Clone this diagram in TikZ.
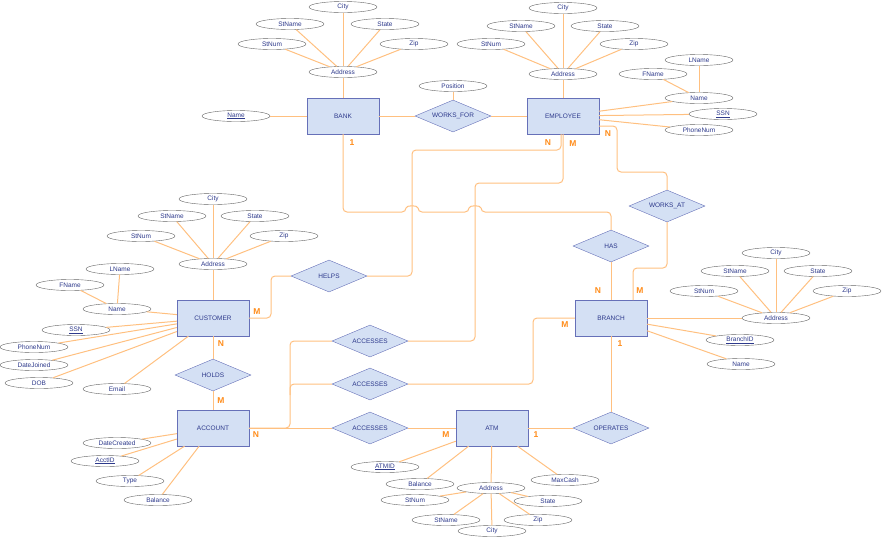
\documentclass[tikz,border=0pt]{standalone}
\usepackage{fontspec}
\setmainfont{Liberation Sans}
\usetikzlibrary{shapes.geometric}
\definecolor{efill}{HTML}{D4E0F4}
\definecolor{edraw}{HTML}{6670B8}
\definecolor{etext}{HTML}{2E3A8C}
\definecolor{lin}{HTML}{FFC080}
\definecolor{lab}{HTML}{FF8C1A}
\begin{document}
\begin{tikzpicture}[x=1pt,y=-1pt,
 every node/.style={font=\fontsize{6.5}{7}\selectfont,text=etext},
 ent/.style={draw=edraw,fill=efill,minimum width=72pt,minimum height=36pt,inner sep=0pt},
 rel/.style={diamond,draw=edraw,fill=efill,aspect=2.4,minimum width=76pt,minimum height=32pt,inner sep=0pt},
 att/.style={ellipse,draw=gray!80!black,fill=white,minimum width=68pt,minimum height=11pt,inner sep=0pt},
 ln/.style={draw=lin,line width=1pt,rounded corners=4pt},
 card/.style={text=lab,font=\fontsize{8.5}{9}\selectfont\bfseries}]
\useasboundingbox (0,0) rectangle (888,542);
% ---------- entities
\node[ent] (bank) at (343,116) {BANK};
\node[ent] (emp) at (563,116) {EMPLOYEE};
\node[ent] (cust) at (213,318) {CUSTOMER};
\node[ent] (br) at (611,318) {BRANCH};
\node[ent] (acc) at (213,428) {ACCOUNT};
\node[ent] (atm) at (492,428) {ATM};
% ---------- relations
\node[rel] (wf) at (453,116) {WORKS\_FOR};
\node[rel] (wa) at (667,206) {WORKS\_AT};
\node[rel] (has) at (611,246) {HAS};
\node[rel] (help) at (329,276) {HELPS};
\node[rel] (ac1) at (370,341) {ACCESSES};
\node[rel] (ac2) at (370,384) {ACCESSES};
\node[rel] (ac3) at (370,428) {ACCESSES};
\node[rel] (hold) at (213,375) {HOLDS};
\node[rel] (op) at (611,428) {OPERATES};
% ---------- attributes
\begin{scope}[every node/.append style={att}]
\node (bAd) at (343,72) {Address};
\node (bCi) at (343,7) {City};
\node (bSn) at (290,24) {StName};
\node (bSt) at (385,24) {State};
\node (bNu) at (272,44) {StNum};
\node (bZi) at (414,44) {Zip};
\node (bNa) at (236,116) {\underline{Name}};
\node (pos) at (453,86) {Position};
\node (eAd) at (563,74) {Address};
\node (eCi) at (563,8) {City};
\node (eSn) at (521,26) {StName};
\node (eSt) at (605,26) {State};
\node (eNu) at (491,44) {StNum};
\node (eZi) at (634,44) {Zip};
\node (eLn) at (699,60) {LName};
\node (eFn) at (653,74) {FName};
\node (eNa) at (699,98) {Name};
\node (eSs) at (723,114) {\underline{SSN}};
\node (ePh) at (699,130) {PhoneNum};
\node (cAd) at (213,264) {Address};
\node (cCi) at (213,199) {City};
\node (cSn) at (172,216) {StName};
\node (cSt) at (255,216) {State};
\node (cNu) at (141,236) {StNum};
\node (cZi) at (284,236) {Zip};
\node (cLn) at (120,269) {LName};
\node (cFn) at (70,285) {FName};
\node (cNa) at (117,309) {Name};
\node (cSs) at (76,330) {\underline{SSN}};
\node (cPh) at (34,347) {PhoneNum};
\node (cDj) at (34,365) {DateJoined};
\node (cDo) at (39,383) {DOB};
\node (cEm) at (117,389) {Email};
\node (rAd) at (776,318) {Address};
\node (rCi) at (776,253) {City};
\node (rSn) at (735,271) {StName};
\node (rSt) at (818,271) {State};
\node (rNu) at (704,291) {StNum};
\node (rZi) at (847,291) {Zip};
\node (rId) at (740,340) {\underline{BranchID}};
\node (rNa) at (741,364) {Name};
\node (aDc) at (117,443) {DateCreated};
\node (aId) at (105,461) {\underline{AcctID}};
\node (aTy) at (130,481) {Type};
\node (aBa) at (158,500) {Balance};
\node (tId) at (385,467) {\underline{ATMID}};
\node (tBa) at (420,484) {Balance};
\node (tAd) at (491,488) {Address};
\node (tMc) at (565,480) {MaxCash};
\node (tNu) at (415,500) {StNum};
\node (tSt) at (548,501) {State};
\node (tSn) at (446,520) {StName};
\node (tZi) at (538,520) {Zip};
\node (tCi) at (492,531) {City};
\end{scope}
% ---------- attribute connectors
\foreach \a/\b in {bank/bAd,bAd/bCi,bAd/bSn,bAd/bSt,bAd/bNu,bAd/bZi,bank/bNa,wf/pos,
 emp/eAd,eAd/eCi,eAd/eSn,eAd/eSt,eAd/eNu,eAd/eZi,emp/eNa,eNa/eLn,eNa/eFn,emp/eSs,emp/ePh,
 cust/cAd,cAd/cCi,cAd/cSn,cAd/cSt,cAd/cNu,cAd/cZi,cust/cNa,cNa/cLn,cNa/cFn,cust/cSs,cust/cPh,cust/cDj,cust/cDo,cust/cEm,
 br/rAd,rAd/rCi,rAd/rSn,rAd/rSt,rAd/rNu,rAd/rZi,br/rId,br/rNa,
 acc/aDc,acc/aId,acc/aTy,acc/aBa,
 atm/tId,atm/tBa,atm/tAd,atm/tMc,tAd/tNu,tAd/tSt,tAd/tSn,tAd/tZi,tAd/tCi}
 {\draw[draw=lin,line width=1pt] (\a) -- (\b);}
% ---------- relationship connectors
\draw[ln] (bank) -- (wf);
\draw[ln] (wf) -- (emp);
\coordinate (e1) at (561,134);
\coordinate (e2) at (563,134);
\coordinate (ewa) at (599,126);
\coordinate (bwa) at (633,300);
\draw[ln] (bank.south) -- (343,212) -- (406,212) .. controls (406,205) and (418,205) .. (418,212) -- (469,212) .. controls (469,205) and (481,205) .. (481,212) -- (611,212) -- (has.north);
\draw[ln] (help.east) -- (412,276) -- (412,150) -- (561,150) -- (e1);
\draw[ln] (e2) -- (563,183) -- (475,183) -- (475,341) -- (ac1.east);
\draw[ln] (cust.east) -- (271,318) -- (271,276) -- (help.west);
\draw[ln] (ewa) -- (617,126) -- (617,172) -- (667,172) -- (wa.north);
\draw[ln] (wa.south) -- (667,268) -- (633,268) -- (bwa);
\draw[ln] (has) -- (br);
\draw[ln] (ac2.east) -- (533,384) -- (533,318) -- (br.west);
\draw[ln] (acc.east) -- (290,428) -- (290,341) -- (ac1.west);
\draw[ln] (290,395) -- (290,384) -- (ac2.west);
\draw[ln] (acc) -- (ac3);
\draw[ln] (ac3) -- (atm);
\draw[ln] (atm) -- (op);
\draw[ln] (br) -- (op);
\draw[ln] (cust) -- (hold);
\draw[ln] (hold) -- (acc);
% ---------- cardinalities
\node[card] at (352,143) {1};
\node[card] at (548,143) {N};
\node[card] at (573,144) {M};
\node[card] at (608,134) {N};
\node[card] at (257,312) {M};
\node[card] at (598,291) {N};
\node[card] at (640,291) {M};
\node[card] at (565,325) {M};
\node[card] at (620,344) {1};
\node[card] at (221,344) {N};
\node[card] at (221,401) {M};
\node[card] at (256,435) {N};
\node[card] at (446,435) {M};
\node[card] at (536,435) {1};
\end{tikzpicture}
\end{document}
